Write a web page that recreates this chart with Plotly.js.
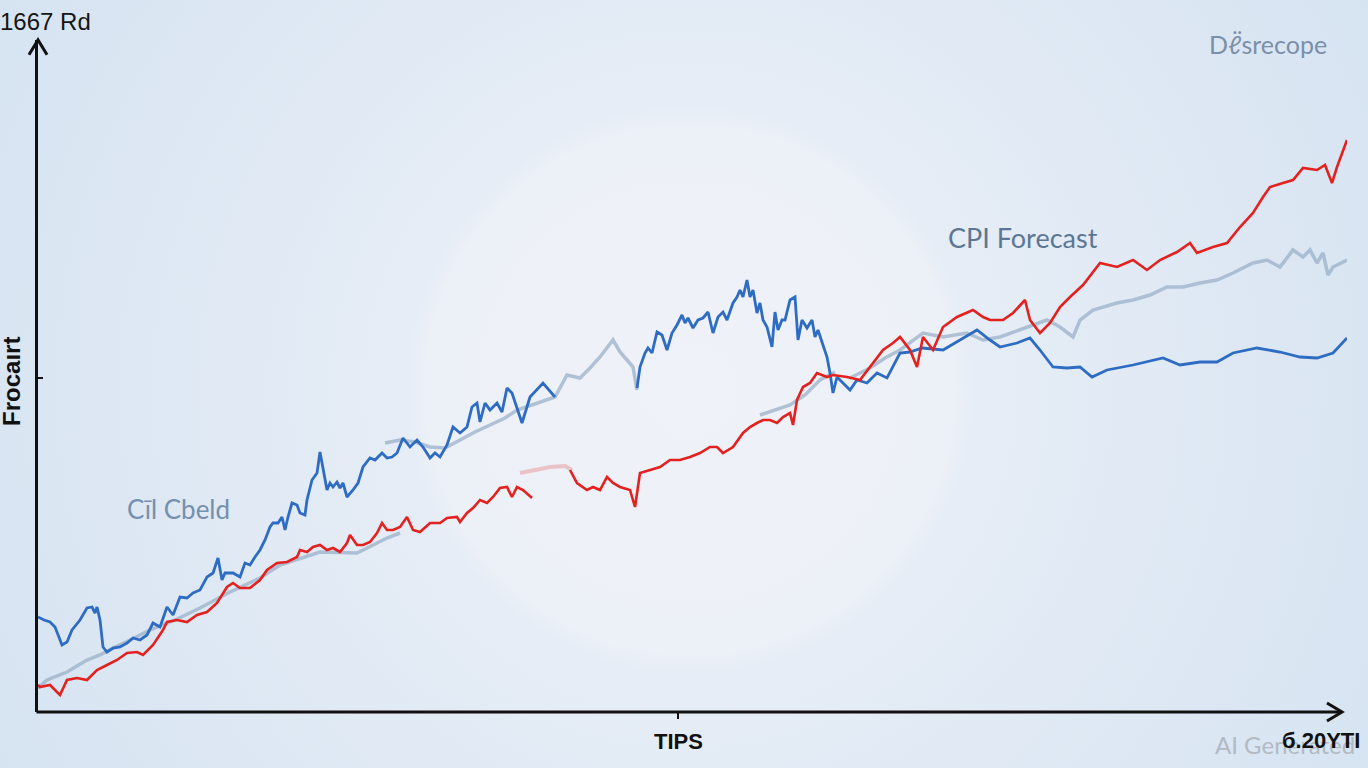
<!DOCTYPE html>
<html>
<head>
<meta charset="utf-8">
<script src="https://cdn.plot.ly/plotly-3.0.1.min.js"></script>
<style>
html,body{margin:0;padding:0;width:1368px;height:768px;overflow:hidden;}
body{background:radial-gradient(circle at 690px 390px,#eff2f8 0px,#ecf0f7 265px,#e6edf6 285px,#dce7f3 600px,#d2e1f0 900px);}
#chart{width:1368px;height:768px;}
</style>
</head>
<body>
<div id="chart"></div>
<script>
// Blue series (gap where the faded segment replaces it)
const blueX = [0,6,12,17,24,29,34,42,49,54,57,59,62,65,69,75,82,89,95,102,109,115,122,129,135,142,149,155,
  162,169,175,180,184,187,195,202,207,212,217,222,227,232,235,240,244,247,250,254,259,262,267,269,274,279,282,285,289,292,295,299,302,305,309,315,320,325,332,337,344,349,354,359,365,372,379,385,392,397,402,409,415,422,429,434,439,442,447,452,459,464,469,474,479,484,492,505,517,null,
  599,602,607,610,614,619,624,629,634,639,644,647,650,655,660,665,670,675,680,685,689,692,695,699,702,705,709,712,715,719,722,725,729,734,737,740,744,747,752,757,760,764,769,774,777,780,784,789,792,795,799,805,812,819,829,839,849,862,
  872,884,905,922,939,952,962,979,992,1002,1015,1029,1042,1054,1069,1095,1125,1142,1162,1179,1195,1219,1242,1262,1279,1295,1309];
const blueY = [95,92,90,85,67,70,82,92,104,105,99,105,92,65,60,64,65,69,74,72,77,89,85,105,97,115,114,119,
  122,135,139,154,132,139,139,135,149,147,155,162,172,185,189,189,195,182,195,209,207,199,197,212,232,239,260,245,222,229,225,230,224,229,215,222,229,245,254,252,259,254,255,259,274,265,272,265,254,259,255,267,285,279,285,305,309,290,309,302,309,300,324,319,305,289,315,329,315,null,
  324,345,359,364,359,380,377,362,379,387,397,389,394,384,392,394,400,379,395,400,392,400,409,415,422,415,432,415,422,399,409,392,385,365,400,382,392,392,412,415,372,392,384,392,375,382,370,355,339,319,335,329,322,332,329,339,334,359,
  360,364,362,372,382,372,365,369,374,362,345,344,345,335,342,347,354,347,350,350,359,364,360,355,354,359,374];

// Red series
const redX = [0,2,12,17,22,29,39,49,59,69,79,89,99,105,115,125,129,139,149,159,169,179,
  189,195,202,212,222,229,239,249,259,262,269,275,282,289,295,302,309,312,319,325,332,339,344,349,355,362,369,375,382,392,402,409,419,422,429,435,442,449,455,462,469,474,479,485,494,null,
  532,539,549,555,562,569,575,582,592,597,602,612,622,632,642,652,662,672,679,685,695,705,712,719,725,732,739,745,752,755,759,765,772,779,789,795,809,822,835,845,855,862,872,879,885,895,905,919,935,945,952,965,975,987,992,1002,1012,1022,1032,1045,1062,1079,1095,1109,1122,1139,1152,1159,1175,1189,1202,1215,1225,1232,1245,1255,1265,1279,1287,1294,1299,1309];
const redY = [27,25,27,22,17,32,34,32,42,47,52,59,60,57,67,82,90,92,90,97,100,109,
  125,129,124,124,132,142,149,150,155,162,160,165,167,162,164,160,169,177,167,167,170,179,189,182,182,185,195,182,180,189,189,194,195,190,199,204,212,209,215,224,225,215,225,222,214,null,
  242,229,222,225,222,235,229,225,222,205,239,242,245,252,252,255,259,265,265,259,265,279,285,289,292,292,289,295,299,287,312,325,329,339,335,337,335,332,349,362,369,375,362,345,375,362,385,395,402,395,392,392,399,412,392,379,389,405,415,427,449,445,452,442,452,460,469,459,465,469,485,499,515,525,529,532,544,542,547,529,545,572];

// Faded red segment
const redFadeX = [482,497,512,527,534];
const redFadeY = [239,242,245,246,242];

// Faded grey-blue series (segments)
const greyX = [0,9,29,49,62,75,92,112,137,162,192,222,242,282,319,349,362,null,
  347,362,377,392,407,422,437,452,467,479,517,529,542,552,562,575,582,589,595,599,null,
  722,737,752,767,782,797,null,
  812,832,847,862,885,905,929,945,962,989,1009,1022,1035,1042,1055,1079,1095,1112,1129,1145,1162,1179,1195,1215,1229,1242,1255,1265,1272,1279,1285,1290,1295,1309];
const greyY = [24,32,40,52,57,64,72,82,92,104,120,134,147,160,159,174,179,null,
  269,272,270,265,264,272,280,287,294,302,315,337,334,344,355,372,360,352,345,322,null,
  297,302,307,317,332,340,null,
  334,344,354,362,379,375,379,372,375,385,392,385,375,392,402,409,412,417,425,425,429,432,439,449,452,445,462,455,462,449,459,437,445,452];

const xTick = [640];
const yTick = [334];

const traces = [
  {x: greyX, y: greyY, mode: 'lines', line: {color: 'rgba(150,172,198,0.7)', width: 3.5}, hoverinfo: 'skip', connectgaps: false},
  {x: redFadeX, y: redFadeY, mode: 'lines', line: {color: 'rgba(225,110,110,0.35)', width: 4}, hoverinfo: 'skip'},
  {x: blueX, y: blueY, mode: 'lines', line: {color: '#2e6cc3', width: 2.8}, connectgaps: false},
  {x: redX, y: redY, mode: 'lines', line: {color: '#e3211f', width: 2.6}, connectgaps: false}
];

const ann = (text, x, y, opts) => Object.assign({text, x, y, xref: 'paper', yref: 'paper', showarrow: false}, opts);

const layout = {
  width: 1368, height: 768,
  margin: {l: 38, r: 21, t: 40, b: 56},
  paper_bgcolor: 'rgba(0,0,0,0)',
  plot_bgcolor: 'rgba(0,0,0,0)',
  showlegend: false,
  xaxis: {range: [0, 1309], showgrid: false, zeroline: false, showline: false,
          tickvals: xTick, ticks: 'outside', ticklen: 6, tickwidth: 2, tickcolor: '#111', showticklabels: false, fixedrange: true},
  yaxis: {range: [0, 672], showgrid: false, zeroline: false, showline: true, linecolor: '#111', linewidth: 3,
          tickvals: yTick, ticks: 'inside', ticklen: 5, tickwidth: 2, tickcolor: '#111', showticklabels: false, fixedrange: true},
  shapes: [
    {type: 'line', xref: 'paper', yref: 'paper', x0: -0.0012, x1: 0.9955, y0: 0, y1: 0, line: {color: '#111', width: 3}},
    {type: 'path', xref: 'paper', yref: 'paper', path: 'M -0.0069,0.978 L 0,1.0 L 0.0069,0.978', line: {color: '#111', width: 3}},
    {type: 'path', xref: 'paper', yref: 'paper', path: 'M 0.9847,0.0134 L 0.9962,0 L 0.9847,-0.0134', line: {color: '#111', width: 3}}
  ],
  annotations: [
    ann('1667 Rd', -0.0306, 1.027, {xanchor: 'left', yanchor: 'middle', font: {family: 'Liberation Sans, Arial', size: 24, color: '#151515'}}),
    ann('Dℓ̈srecope', 0.9397, 0.994, {xanchor: 'center', yanchor: 'middle', font: {family: 'Lato, Open Sans', size: 25, color: '#7a90aa'}}),
    ann('CPI Forecast', 0.7525, 0.7068, {xanchor: 'center', yanchor: 'middle', font: {family: 'Lato, Open Sans', size: 27, color: '#5b7794'}}),
    ann('Cīl Cbeld', 0.107, 0.302, {xanchor: 'center', yanchor: 'middle', font: {family: 'Lato, Open Sans', size: 26, color: '#7590ae'}}),
    ann('<b>Frocaırt</b>', -0.0199, 0.4926, {xanchor: 'center', yanchor: 'middle', textangle: -90, font: {family: 'Liberation Sans, Arial', size: 24, color: '#111'}}),
    ann('<b>TIPS</b>', 0.489, -0.0446, {xanchor: 'center', yanchor: 'middle', font: {family: 'Liberation Sans, Arial', size: 22, color: '#111'}}),
    ann('AI Generated', 0.9526, -0.049, {xanchor: 'center', yanchor: 'middle', font: {family: 'Lato, Open Sans', size: 24, color: '#b2bac3'}}),
    ann('<b>б.20YTI</b>', 0.9488, -0.0417, {xanchor: 'left', yanchor: 'middle', font: {family: 'Liberation Sans, Arial', size: 22, color: '#111'}})
  ]
};

Plotly.newPlot('chart', traces, layout, {displayModeBar: false, staticPlot: true});
</script>
</body>
</html>
